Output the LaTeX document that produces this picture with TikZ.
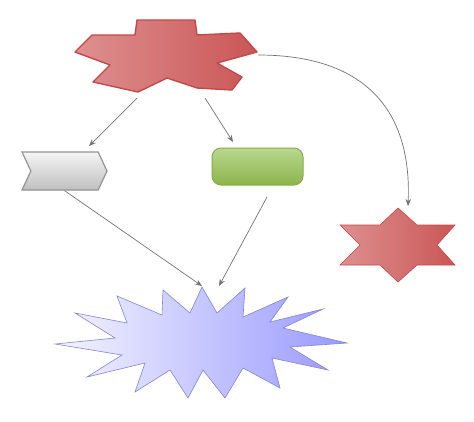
\documentclass[tikz,border=0pt]{standalone}
\usepackage{tikz}
\usepackage{xcolor}
\usetikzlibrary{shapes.symbols,arrows.meta}

\definecolor{astline}{HTML}{C44848}
\definecolor{astlight}{HTML}{DE9090}
\definecolor{astdark}{HTML}{CA5656}
\definecolor{pilltop}{HTML}{B8D890}
\definecolor{pillbot}{HTML}{8CB44A}
\definecolor{pillline}{HTML}{86AE44}
\definecolor{burstline}{HTML}{8484DC}

\begin{document}
\begin{tikzpicture}[x=1pt,y=-1pt]%
  \tikzstyle{link}=[-{Stealth[length=7pt,width=5.5pt]},draw=gray!90!black,line width=0.7pt]
  \tikzstyle{redn}=[left color=astlight,right color=astdark,draw=astline,line width=1.4pt,line join=round]
  \tikzstyle{chevn}=[signal,signal from=west,signal to=east,signal pointer angle=130,
    minimum width=85,minimum height=38,inner sep=0,top color=gray!8,bottom color=gray!50,
    draw=gray!85,line width=1.2pt]
  \tikzstyle{pilln}=[rectangle,rounded corners=9,minimum width=91,minimum height=37,inner sep=0,
    top color=pilltop,bottom color=pillbot,draw=pillline,line width=1pt]
  \useasboundingbox (0,0) rectangle (474,421);
  % top shape
  \shadedraw[redn] (137,20) -- (195,20) -- (197,35) -- (240,33) -- (257,52) -- (217,63)
    -- (242,77) -- (232,90) -- (197,88) -- (167,78) -- (138,92) -- (93,82) -- (110,65)
    -- (75,52) -- (92,35) -- (135,35) -- cycle;
  \coordinate (ast1) at (137,98);
  \coordinate (ast2) at (205,98);
  \coordinate (ast3) at (258,55);
  % middle row
  \node(chev)[chevn] at (64.5,171) {};
  \node(pill)[pilln] at (257.5,166.5) {};
  \coordinate (chevin) at (89,146);
  \coordinate (pillin) at (233,142);
  \coordinate (pillout) at (267,197);
  % six point star
  \shadedraw[left color=astlight,right color=astdark,draw=astline,line width=0.6pt]
    (398,208) -- (417,225) -- (455,225) -- (437,245) -- (455,265) -- (417,265)
    -- (398,282) -- (380,265) -- (340,265) -- (360,245) -- (340,225) -- (380,225) -- cycle;
  \coordinate (star) at (408,206);
  % burst
  \shadedraw[left color=blue!4,right color=blue!40,draw=burstline,line width=0.6pt]
    (202,287) -- (217,313) -- (245,288) -- (243,317) -- (288,297) -- (270,322)
    -- (323,309) -- (283,328) -- (347,343) -- (290,347) -- (328,370) -- (272,358)
    -- (280,388) -- (243,368) -- (225,398) -- (203,370) -- (188,398) -- (170,370)
    -- (135,392) -- (145,363) -- (87,377) -- (122,355) -- (55,344) -- (115,338)
    -- (75,313) -- (127,323) -- (117,296) -- (162,315) -- (163,290) -- (190,313) -- cycle;
  \coordinate (burst1) at (202,286);
  \coordinate (burst2) at (219,286);
  % links
  \draw[link] (ast1) -- (chevin);
  \draw[link] (ast2) -- (pillin);
  \draw[link] (ast3) .. controls (365,55) and (412,110) .. (star);
  \draw[link] (chev.south) -- (burst1);
  \draw[link] (pillout) -- (burst2);
\end{tikzpicture}
\end{document}
